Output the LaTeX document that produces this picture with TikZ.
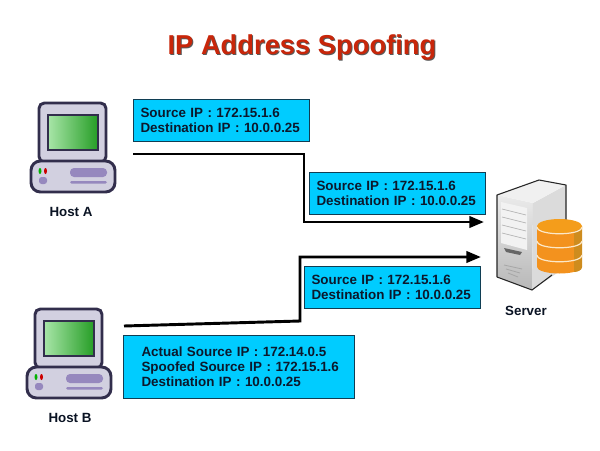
\documentclass[tikz,border=0pt]{standalone}
\usepackage{fontspec}
\setmainfont{Liberation Sans}
\usetikzlibrary{arrows.meta}
\definecolor{boxblue}{RGB}{0,204,255}
\definecolor{boxline}{RGB}{16,62,84}
\definecolor{txt}{RGB}{12,24,44}
\definecolor{titlered}{RGB}{200,38,10}
\definecolor{pcdark}{RGB}{50,46,76}
\definecolor{pcbody}{RGB}{210,208,224}
\definecolor{pcpurple}{RGB}{150,136,190}
\definecolor{orangeA}{RGB}{243,146,30}
\definecolor{orangeB}{RGB}{206,140,30}
\definecolor{bandline}{RGB}{252,232,200}
\tikzset{
  infobox/.style={draw=boxline,line width=0.8pt,fill=boxblue,text=txt,font=\fontsize{10.05}{11.25}\selectfont\bfseries,
    align=left,anchor=north west,inner ysep=0pt,inner xsep=0pt,minimum height=#1},
  hostlabel/.style={text=txt!80!black,font=\fontsize{10}{12}\selectfont\bfseries},
  flow/.style={line width=2.2pt,line join=miter,-{Triangle[length=11pt,width=8.5pt]}},
  pcshape/.style={draw=pcdark,line width=2.2pt,fill=pcbody,rounded corners=4pt},
  bandarc/.style={draw=bandline,line width=0.9pt},
  pc/.pic={
    \draw[pcshape] (39,103) rectangle (106,162);
    \shade[shading angle=75,left color=white!70!green!80!gray,right color=green!55!black!85] (48,115) rectangle (98,150);
    \draw[draw=pcdark,line width=2.2pt] (48,115) rectangle (98,150);
    \draw[pcshape,rounded corners=7pt] (31,161) rectangle (115,192);
    \fill[green!70!black] (40,171) ellipse (1.5 and 3);
    \fill[red!80!black] (45.5,171) ellipse (1.5 and 3);
    \fill[pcpurple,rounded corners=2pt] (39,177) rectangle (47,184);
    \fill[pcpurple,rounded corners=3pt] (70,168) rectangle (107,177);
    \fill[pcpurple,rounded corners=1pt] (70,181) rectangle (107,183.5);
  }
}
\begin{document}
\begin{tikzpicture}[x=0.75pt,y=-0.75pt]
\useasboundingbox (0,0) rectangle (600,450);
\fill[white] (0,0) rectangle (600,450);

% title
\node[text=black!65,font=\fontsize{20.5}{24}\selectfont\bfseries] at (303,48.5) {IP Address Spoofing};
\node (title) [text=titlered,font=\fontsize{20.5}{24}\selectfont\bfseries] at (302,47.5) {IP Address Spoofing};

% hosts
\pic at (0,0) {pc};
\pic at (-4,206) {pc};
\node (hostA) [hostlabel] at (71,212) {Host A};
\node (hostB) [hostlabel] at (70,418) {Host B};

% server
\shade[top color=black!8,bottom color=black!28] (497,195) -- (533,203) -- (532,290) -- (497,277) -- cycle;
\fill[black!14] (533,203) -- (566,185) -- (566,267) -- (532,290) -- cycle;
\fill[black!6] (497,195) -- (539,180) -- (566,185) -- (533,203) -- cycle;
\draw[black!85,line width=0.8pt,line join=round] (497,277) -- (497,195) -- (539,180) -- (566,185) -- (566,225);
\draw[black!85,line width=0.8pt] (497,277) -- (532,290) -- (552,275);
\fill[black!5] (501,202) -- (527,208) -- (527,250) -- (501,243) -- cycle;
\foreach \i in {0,1,2,3}{\draw[black!30,line width=0.5pt] (502,{209+8*\i}) -- (526,{215+8*\i});}
\fill[black!60] (504,248) -- (522,252) -- (520,255) -- (506,252) -- cycle;
\foreach \i/\a/\b in {0/504/522,1/506/520,2/508/518}{\draw[black!35,line width=0.6pt] (\a,{265+4*\i}) -- (\b,{269+4*\i});}
% database
\fill[orangeA] (537,226) rectangle (582,267);
\fill[orangeA] (559.5,267) ellipse (22.5 and 6.5);
\fill[orangeB] (574,230) -- (582,226) -- (582,267) .. controls (582,270) and (578,272) .. (574,272) -- cycle;
\fill[orangeA!90!yellow] (559.5,226) ellipse (22.5 and 7);
\draw[bandarc] (537,227) .. controls (537,236) and (582,236) .. (582,227);
\draw[bandarc] (537,241) .. controls (537,250) and (582,250) .. (582,241);
\draw[bandarc] (537,255) .. controls (537,264) and (582,264) .. (582,255);
\node (server) [hostlabel] at (526,311) {Server};

% connector end points
\coordinate (aOut) at (133,154);
\coordinate (aMid1) at (304,154);
\coordinate (aMid2) at (304,222);
\coordinate (serverA) at (484,222);
\coordinate (bOut) at (124,326);
\coordinate (bMid1) at (300,321);
\coordinate (bMid2) at (300,257);
\coordinate (serverB) at (481,257);
\draw[flow] (aOut) -- (aMid1) -- (aMid2) -- (serverA);
\draw[flow] (bOut) -- (bMid1) -- (bMid2) -- (serverB);

% boxes
\node (boxA) [infobox=31.5pt,text width=132pt] at (133,99) {\hspace*{5.25pt}Source IP : 172.15.1.6\\\hspace*{5.25pt}Destination IP : 10.0.0.25};
\node (boxB) [infobox=31.5pt,text width=132pt] at (309,172) {\hspace*{5.25pt}Source IP : 172.15.1.6\\\hspace*{5.25pt}Destination IP : 10.0.0.25};
\node (boxC) [infobox=31.5pt,text width=132pt] at (304,266) {\hspace*{5.25pt}Source IP : 172.15.1.6\\\hspace*{5.25pt}Destination IP : 10.0.0.25};
\node (boxD) [infobox=47.25pt,text width=173.25pt] at (123,335) {\hspace*{13.5pt}Actual Source IP : 172.14.0.5\\\hspace*{13.5pt}Spoofed Source IP : 172.15.1.6\\\hspace*{13.5pt}Destination IP : 10.0.0.25};
\end{tikzpicture}
\end{document}
